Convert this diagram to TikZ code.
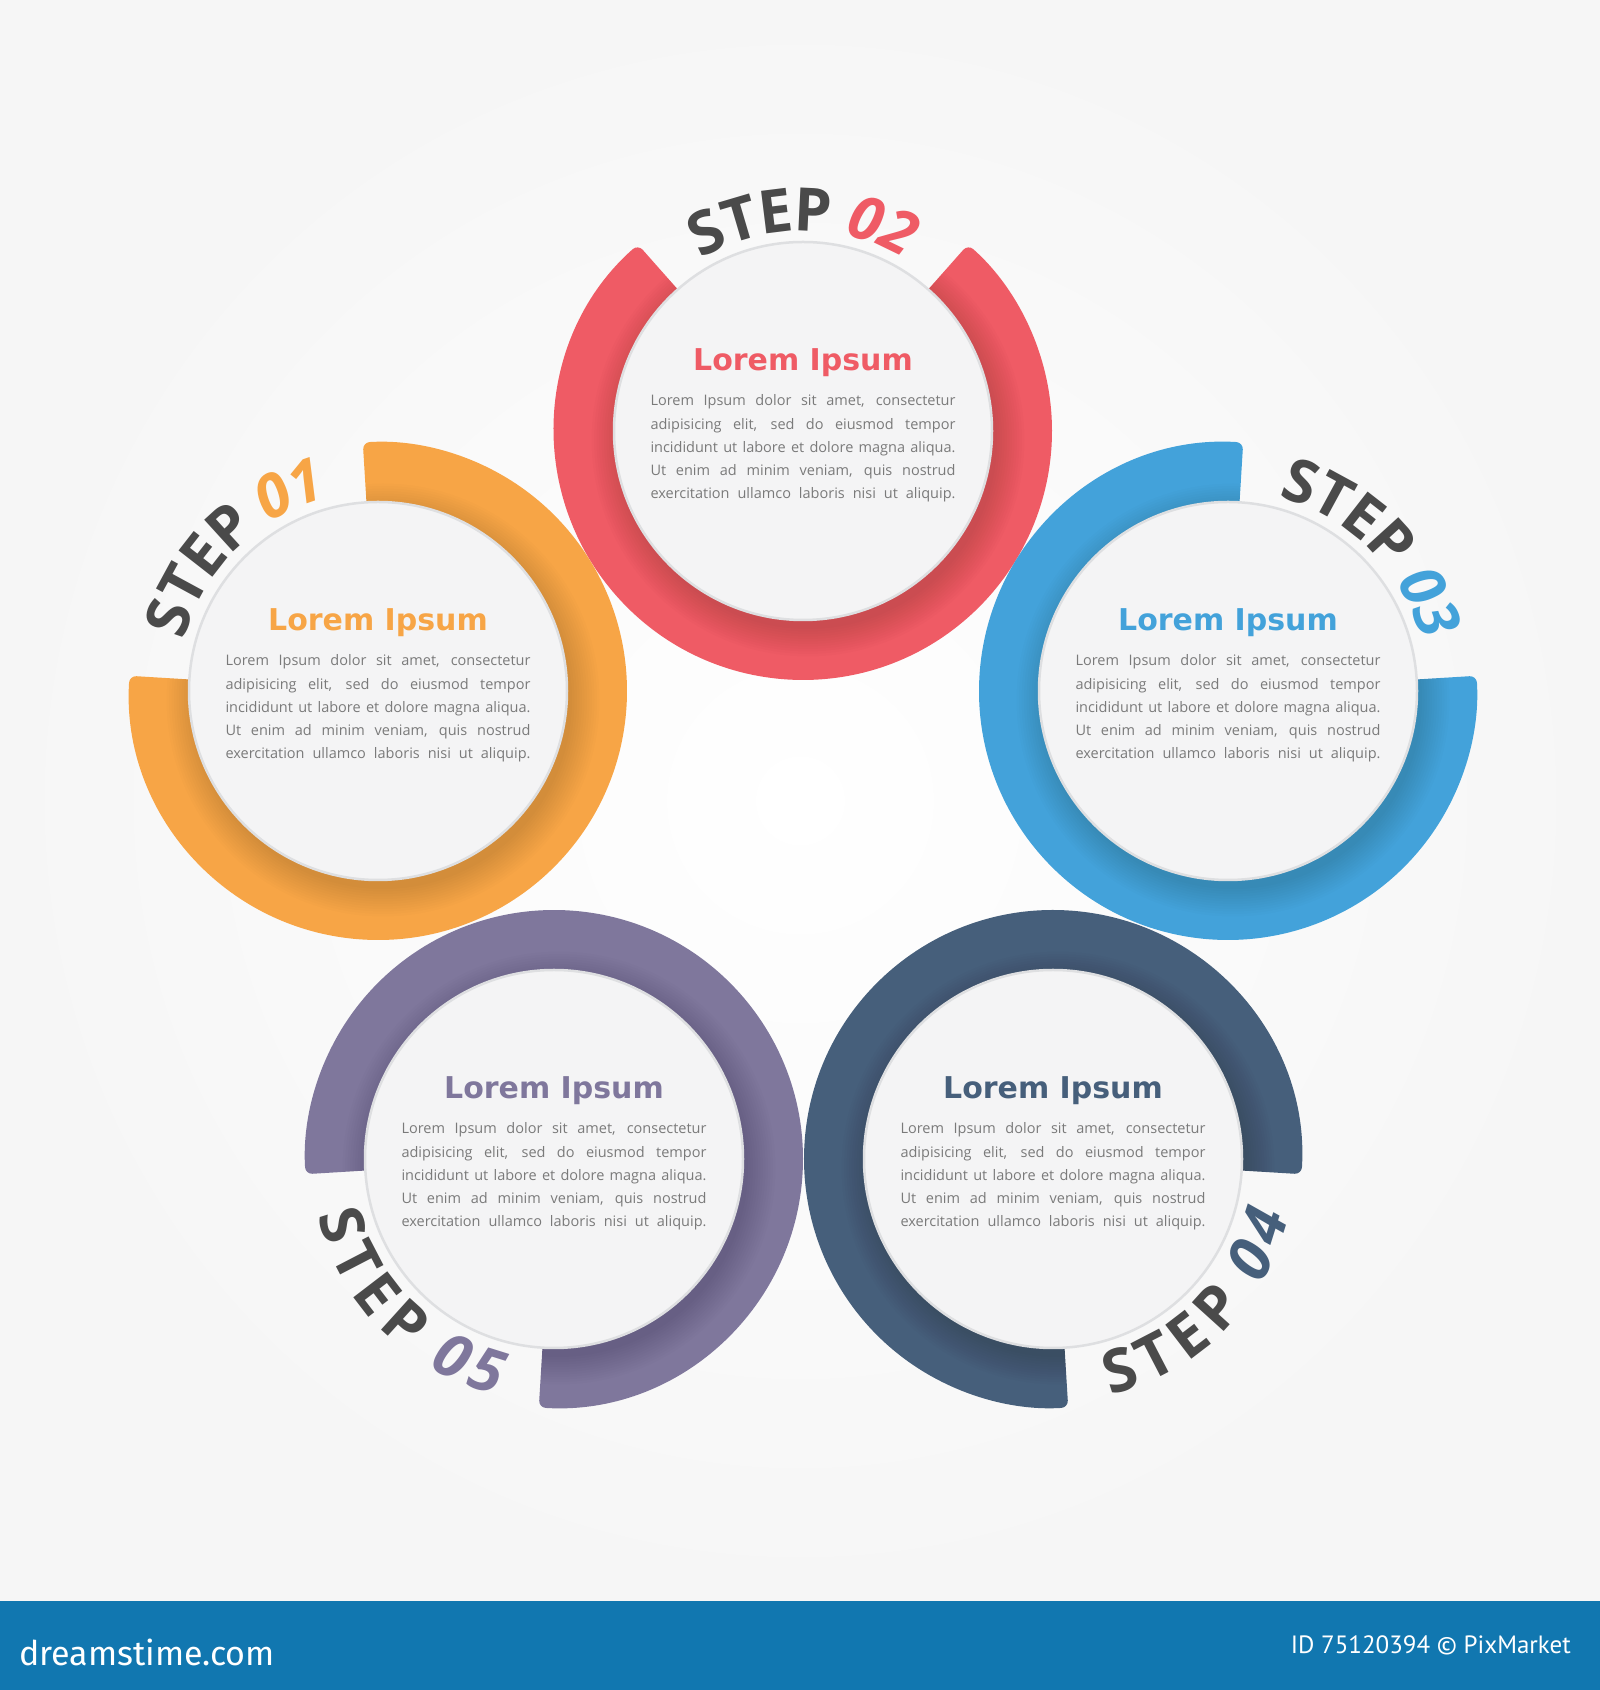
\documentclass[tikz,border=0pt]{standalone}
\usepackage{fontspec}
\setmainfont{Open Sans}
\newfontfamily\stepfont{Open Sans}
\newfontfamily\titlefont{DejaVu Sans}
\newfontfamily\bannerfont{PT Sans}
\newfontfamily\logofont{Fira Sans}
\usetikzlibrary{calc,decorations.text}
\definecolor{cred}{HTML}{EF5B65}
\definecolor{corange}{HTML}{F7A546}
\definecolor{cblue}{HTML}{43A2DA}
\definecolor{cnavy}{HTML}{465F7B}
\definecolor{cpurple}{HTML}{7F779C}
\definecolor{stepgray}{HTML}{4A4A4A}
\definecolor{bodygray}{HTML}{7A7A7A}
\definecolor{innerfill}{HTML}{F4F4F5}
\definecolor{innerrim}{HTML}{DEDFE1}
\definecolor{bggray}{HTML}{F6F6F6}
\definecolor{banner}{HTML}{1177B0}
\newcommand\stepfontsize{\stepfont\bfseries\fontsize{60}{60}\selectfont}
\newcommand\bodycopy{\fontsize{14.5}{23.2}\selectfont\parfillskip=0pt\relax
Lorem Ipsum dolor sit amet, consectetur\linebreak
adipisicing elit, sed do eiusmod tempor\linebreak
incididunt ut labore et dolore magna aliqua.\linebreak
Ut enim ad minim veniam, quis nostrud\linebreak
exercitation ullamco laboris nisi ut aliquip.}
\tikzset{
 innercircle/.style={circle, fill=innerfill, draw=innerrim, line width=2.5pt, minimum size=378pt, inner sep=0pt},
 titletext/.style={anchor=base, inner sep=0pt, font=\titlefont\bfseries\fontsize{30}{30}\selectfont},
 bodytext/.style={anchor=base, inner sep=0pt, text=bodygray, font=\fontsize{14.5}{23.2}\selectfont},
}
% #1 name, #2 x, #3 y, #4 colour, #5 gap centre angle
\newcommand\stepcircle[5]{%
\coordinate (#1) at (#2,#3);
\begin{scope}
\clip[rounded corners=7pt] ($(#1)+({#5+41.5}:249pt)$) arc[start angle={#5+41.5}, end angle={#5+318.5}, radius=249pt]
  -- ($(#1)+({#5+318.5}:150pt)$) arc[start angle={#5+318.5}, end angle={#5+41.5}, radius=150pt] -- cycle;
\fill[#4] (#1) circle[radius=260pt];
\foreach \k in {0,...,11}{\fill[black,opacity=0.011] ($(#1)+(5pt,-9pt)$) circle[radius={189pt+2.5pt*\k}];}
\end{scope}
\node[innercircle] (#1-c) at (#1) {};
\node[titletext, text=#4] (#1-t) at ($(#1)+(0,60.5pt)$) {Lorem Ipsum};
\node[bodytext] (#1-b) at ($(#1)+(0,25pt)$) {\parbox[t]{305pt}{\bodycopy}};
}
\newcommand\steptop[4]{%
\path[decorate, decoration={text along path, text align=center, raise=-8pt,
  text={|\stepfontsize\color{stepgray}|STEP |\stepfontsize\itshape\color{#3}|#4}}]
  ($(#1)+({#2+41}:208pt)$) arc[start angle={#2+41}, end angle={#2-41}, radius=208pt];}
\newcommand\stepbottom[4]{%
\path[decorate, decoration={text along path, text align=center, raise=-48pt,
  text={|\stepfontsize\color{stepgray}|STEP |\stepfontsize\itshape\color{#3}|#4}}]
  ($(#1)+({#2-41}:195pt)$) arc[start angle={#2-41}, end angle={#2+41}, radius=195pt];}
\begin{document}
\begin{tikzpicture}[x=1pt,y=1pt]
\useasboundingbox (0,0) rectangle (1600,1690);
\shade[inner color=white, outer color=bggray] (0,89) rectangle (1600,1690);
\stepcircle{s2}{803}{1259}{cred}{90}
\stepcircle{s1}{378}{999}{corange}{135}
\stepcircle{s3}{1228}{999}{cblue}{45}
\stepcircle{s5}{554}{531}{cpurple}{225}
\stepcircle{s4}{1053}{531}{cnavy}{315}
\steptop{s2}{90}{cred}{02}
\steptop{s1}{135}{corange}{01}
\steptop{s3}{45}{cblue}{03}
\stepbottom{s5}{225}{cpurple}{05}
\stepbottom{s4}{315}{cnavy}{04}
\fill[banner] (0,0) rectangle (1600,89);
\node[anchor=west, inner sep=0pt, text=white, font=\logofont\fontsize{34}{34}\selectfont] (logo) at (19,38) {dreamstime.com};
\node[anchor=east, inner sep=0pt, text=white, font=\bannerfont\fontsize{25}{25}\selectfont] (credit) at (1571,45) {ID 75120394 © PixMarket};
\end{tikzpicture}
\end{document}
